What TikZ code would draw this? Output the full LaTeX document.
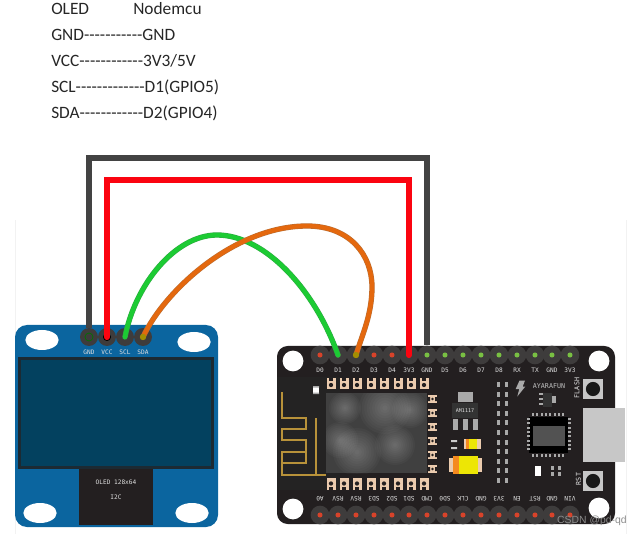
\documentclass[tikz,border=0pt]{standalone}
\usepackage{fontspec}
\newfontfamily\tablefont{Carlito}
\setsansfont{Liberation Sans}
\setmonofont{DejaVu Sans Mono}
\usepackage{tikz}
\definecolor{oledblue}{HTML}{0B659F}
\definecolor{oledscreen}{HTML}{03415F}
\definecolor{oledframe}{HTML}{1C2A33}
\definecolor{boardblack}{HTML}{231F20}
\definecolor{pinstrip}{HTML}{3E3C3C}
\definecolor{pinred}{HTML}{D8432A}
\definecolor{pingreen}{HTML}{79C043}
\definecolor{padcream}{HTML}{EBCBAE}
\definecolor{antgold}{HTML}{B8923A}
\definecolor{wiregrey}{HTML}{434343}
\definecolor{wirered}{HTML}{FB0410}
\definecolor{wiregreen}{HTML}{1CCB33}
\definecolor{wireorange}{HTML}{E4680E}
\definecolor{greenedge}{HTML}{2FA843}
\definecolor{orangeedge}{HTML}{B86C32}
\definecolor{partgrey}{HTML}{A9A9A9}
\definecolor{usbgrey}{HTML}{C7C7C7}
\definecolor{capyellow}{HTML}{EDE605}
\definecolor{caporange}{HTML}{F58A1F}

\begin{document}
\begin{tikzpicture}[x=0.75pt,y=-0.75pt,
textline/.style={anchor=base west,inner sep=0pt,font=\tablefont\fontsize{13pt}{14pt}\selectfont,text=black!85},
pinlabel/.style={inner sep=0pt,font=\ttfamily\fontsize{4.6pt}{5pt}\selectfont,text=black!12},
oledpin/.style={circle,fill=pinstrip,inner sep=0pt,minimum size=13.5pt},
mcupin/.style={circle,fill=pinstrip,inner sep=0pt,minimum size=14pt},
flatwire/.style={line width=4.6pt,miter limit=10},
softwire/.style={line width=0.4pt,double distance=3.2pt,line cap=round}]
\useasboundingbox (0,0) rectangle (642,534);
\draw[black!5,line width=0.5pt] (15,220) -- (15,534) (626,220) -- (626,534);

% wiring table
\node[textline] (holed) at (51,15) {OLED};
\node[textline] (hmcu) at (133,15) {Nodemcu};
\node[textline] (lgnd) at (51,41) {GND-----------GND};
\node[textline] (lvcc) at (51,67) {VCC------------3V3/5V};
\node[textline] (lscl) at (51,93) {SCL-------------D1(GPIO5)};
\node[textline] (lsda) at (51,119) {SDA------------D2(GPIO4)};

% oled board
\fill[oledblue,rounded corners=9pt] (15,325) rectangle (218,527);
\fill[oledframe] (18,357) rectangle (214,469);
\fill[oledscreen] (21,360) rectangle (211,466);
\fill[boardblack] (79,469) rectangle (153,525);
\foreach \x/\y in {42/340,194/342,40/513,192/513}
  \fill[white] (\x,\y) ellipse (12.5pt and 7.5pt);
\foreach \lab/\x in {GND/89,VCC/107,SCL/125,SDA/143} {
  \node[oledpin] (oled\lab) at (\x,337) {};
  \node[pinlabel] (oledlab\lab) at (\x,352) {\lab};
}
\draw[green!45!black,line width=0.5pt] (oledGND) circle (3pt);
\fill[black] (oledVCC) circle (3pt);
\node[pinlabel] (oledname) at (116,482) {OLED 128x64};
\node[pinlabel] (oledbus) at (116,497) {I2C};

% nodemcu board
\fill[boardblack,rounded corners=8pt] (277,346) rectangle (615,524);
\fill[black!85,opacity=0.6] (277,377) rectangle (340,490);
\fill[usbgrey] (583,408) rectangle (625,462);
\foreach \x/\y in {293/361,293/509,599/361,599/508}
  \fill[white] (\x,\y) circle (7.8pt);
\foreach \lab/\x/\col [count=\i] in {D0/320/pinred,D1/338/pingreen,D2/356/pingreen,D3/374/pinred,D4/392/pinred,3V3/409/pingreen,GND/427/pingreen,D5/445/pingreen,D6/463/pingreen,D7/481/pingreen,D8/499/pingreen,RX/517/pingreen,TX/535/pingreen,GND/552/pingreen,3V3/570/pingreen} {
  \node[mcupin] (top\i) at (\x,355) {};
  \fill[\col] (top\i) circle (1.9pt);
  \node[pinlabel] (toplab\i) at (\x,370) {\lab};
}
\foreach \lab/\x [count=\i] in {A0/320,RSV/338,RSV/356,SD3/374,SD2/392,SD1/409,CMD/427,SD0/445,CLK/463,GND/481,3V3/499,EN/517,RST/535,GND/552,VIN/570} {
  \node[mcupin] (bot\i) at (\x,515) {};
  \fill[pinred] (bot\i) circle (1.9pt);
  \node[pinlabel,rotate=180] (botlab\i) at (\x,499) {\lab};
}

% antenna
\draw[antgold,line width=1.5pt,line join=miter] (282,392) -- (282,418) -- (306,418) -- (306,429) -- (282,429) -- (282,440) -- (306,440) -- (306,452) -- (282,452) -- (282,463) -- (306,463) -- (306,452);
\draw[antgold,line width=1.5pt] (282,463) -- (282,475) -- (326,475) (316,418) -- (316,475);
\fill[white] (313,386) rectangle (319,394);
\fill[partgrey] (313,386) rectangle (319,387.5) (313,392.5) rectangle (319,394);

% esp module
\fill[black!75] (326,393) rectangle (427,473);
\begin{scope}
\clip (326,393) rectangle (427,473);
\foreach \x/\y/\r in {345/408/16,385/408/26,410/410/18,357/452/24,340/440/18,395/445/20}
  \foreach \k in {1,...,10}
    \fill[white,opacity=0.028] (\x,\y) circle (\r*\k*0.075pt);
\end{scope}
\foreach \x in {331,344,357,371,384,398,411,424} {
  \fill[padcream] (\x-4.5,378) rectangle (\x+4.5,389);
  \fill[boardblack] (\x-2,378) rectangle (\x+2,381);
  \fill[boardblack] (\x,385) circle (1.6pt);
  \fill[padcream] (\x-4.5,478) rectangle (\x+4.5,490);
  \fill[boardblack] (\x-2,487) rectangle (\x+2,490);
  \fill[boardblack] (\x,483.5) circle (1.6pt);
}
\foreach \y in {399,413,427,441,455,469} {
  \fill[padcream] (428,\y-4) rectangle (437,\y+4);
  \fill[boardblack] (428,\y-2) rectangle (430,\y+2) (435,\y-2) rectangle (437,\y+2);
  \fill[boardblack] (432.5,\y) circle (1pt);
}

% regulator and caps
\fill[partgrey] (458,392) rectangle (473,402);
\fill[black!80] (452,403) rectangle (478,418);
\node[pinlabel,font=\ttfamily\fontsize{3.8pt}{4pt}\selectfont] (regname) at (465,410.5) {AM1117};
\foreach \x in {453,463,473}
  \fill[partgrey] (\x,419) rectangle (\x+5,430);
\fill[black!20] (451,440) rectangle (457,442) (451,447) rectangle (457,449);
\fill[padcream] (464,439) rectangle (481,449);
\fill[capyellow] (468,439) rectangle (477,449);
\fill[caporange] (466,439) rectangle (469,449);
\fill[padcream] (449,458) rectangle (482,472);
\fill[capyellow] (453,456) rectangle (478,474);
\fill[caporange] (453,456) rectangle (459,474);

% right side parts
\foreach \y in {0,...,10} {
  \fill[partgrey] (497,384.5+\y*9.6-2.5) rectangle (499.5,384.5+\y*9.6+2.5);
  \fill[partgrey] (505,384.5+\y*9.6-2.5) rectangle (507.5,384.5+\y*9.6+2.5);
}
\fill[partgrey] (519.5,380.5) -- (525,380.5) -- (522.7,386.5) -- (525.3,386.5) -- (517.3,396.5) -- (519.3,389) -- (515.7,389) -- cycle;
\node[pinlabel,text=black!25,font=\ttfamily\fontsize{5pt}{5pt}\selectfont] (brand) at (549,386) {AYARAFUN};
\node[pinlabel,rotate=90,font=\ttfamily\fontsize{5pt}{5pt}\selectfont] (flashlab) at (577,388) {FLASH};
\node[pinlabel,rotate=90,font=\ttfamily\fontsize{5pt}{5pt}\selectfont] (rstlab) at (578.5,479) {RST};
\foreach \y in {379,471} {
  \fill[usbgrey] (583,\y) rectangle (603,\y+20);
  \fill[black!90] (593,\y+10) circle (5.3pt);
}
\fill[black!80] (543,393) rectangle (552,407);
\fill[partgrey] (552,396) rectangle (556,403);
\foreach \y in {394,399,404}
  \fill[partgrey] (539,\y-1) rectangle (543,\y+1);
\fill[black] (529,417) rectangle (568,453);
\fill[black!68] (533,426) rectangle (565,446);
\foreach \i in {0,...,7} {
  \fill[partgrey] (533+\i*4.3-1,412.5) rectangle (533+\i*4.3+1,415.5);
  \fill[partgrey] (533+\i*4.3-1,453.5) rectangle (533+\i*4.3+1,456.5);
  \fill[partgrey] (526.5,419+\i*4.3-1) rectangle (529.5,419+\i*4.3+1);
  \fill[partgrey] (567.5,419+\i*4.3-1) rectangle (570.5,419+\i*4.3+1);
}
\fill[white] (535,466) rectangle (541,476);
\foreach \x in {551,558} \foreach \y in {468,474}
  \fill[partgrey] (\x,\y-2) rectangle (\x+2.5,\y+2);

% wires
\draw[wiregrey,flatwire] (oledGND.north) |- (427,158) -- (top7.north);
\draw[wirered,flatwire,line cap=round] (oledVCC.center) -- (107,180) -- (409,180) -- (top6.center);
\draw[softwire,draw=greenedge,double=wiregreen] (oledSCL.center) .. controls (135,285) and (175,235) .. (217,235) .. controls (265,235) and (315,290) .. (top2.center);
\draw[softwire,draw=orangeedge,double=wireorange] (oledSDA.center) .. controls (165,290) and (235,226) .. (307,226) .. controls (350,226) and (372,255) .. (372,287) .. controls (372,315) and (362,335) .. (top3.center);
\fill[olive!80!orange] (oledSDA) circle (2.4pt) (top3) circle (2.4pt);

% watermark
\node[anchor=base east,inner sep=0pt,font=\sffamily\fontsize{7.8pt}{9pt}\selectfont,text=black!45] (mark) at (627,523) {CSDN @pd-qd};
\end{tikzpicture}
\end{document}
